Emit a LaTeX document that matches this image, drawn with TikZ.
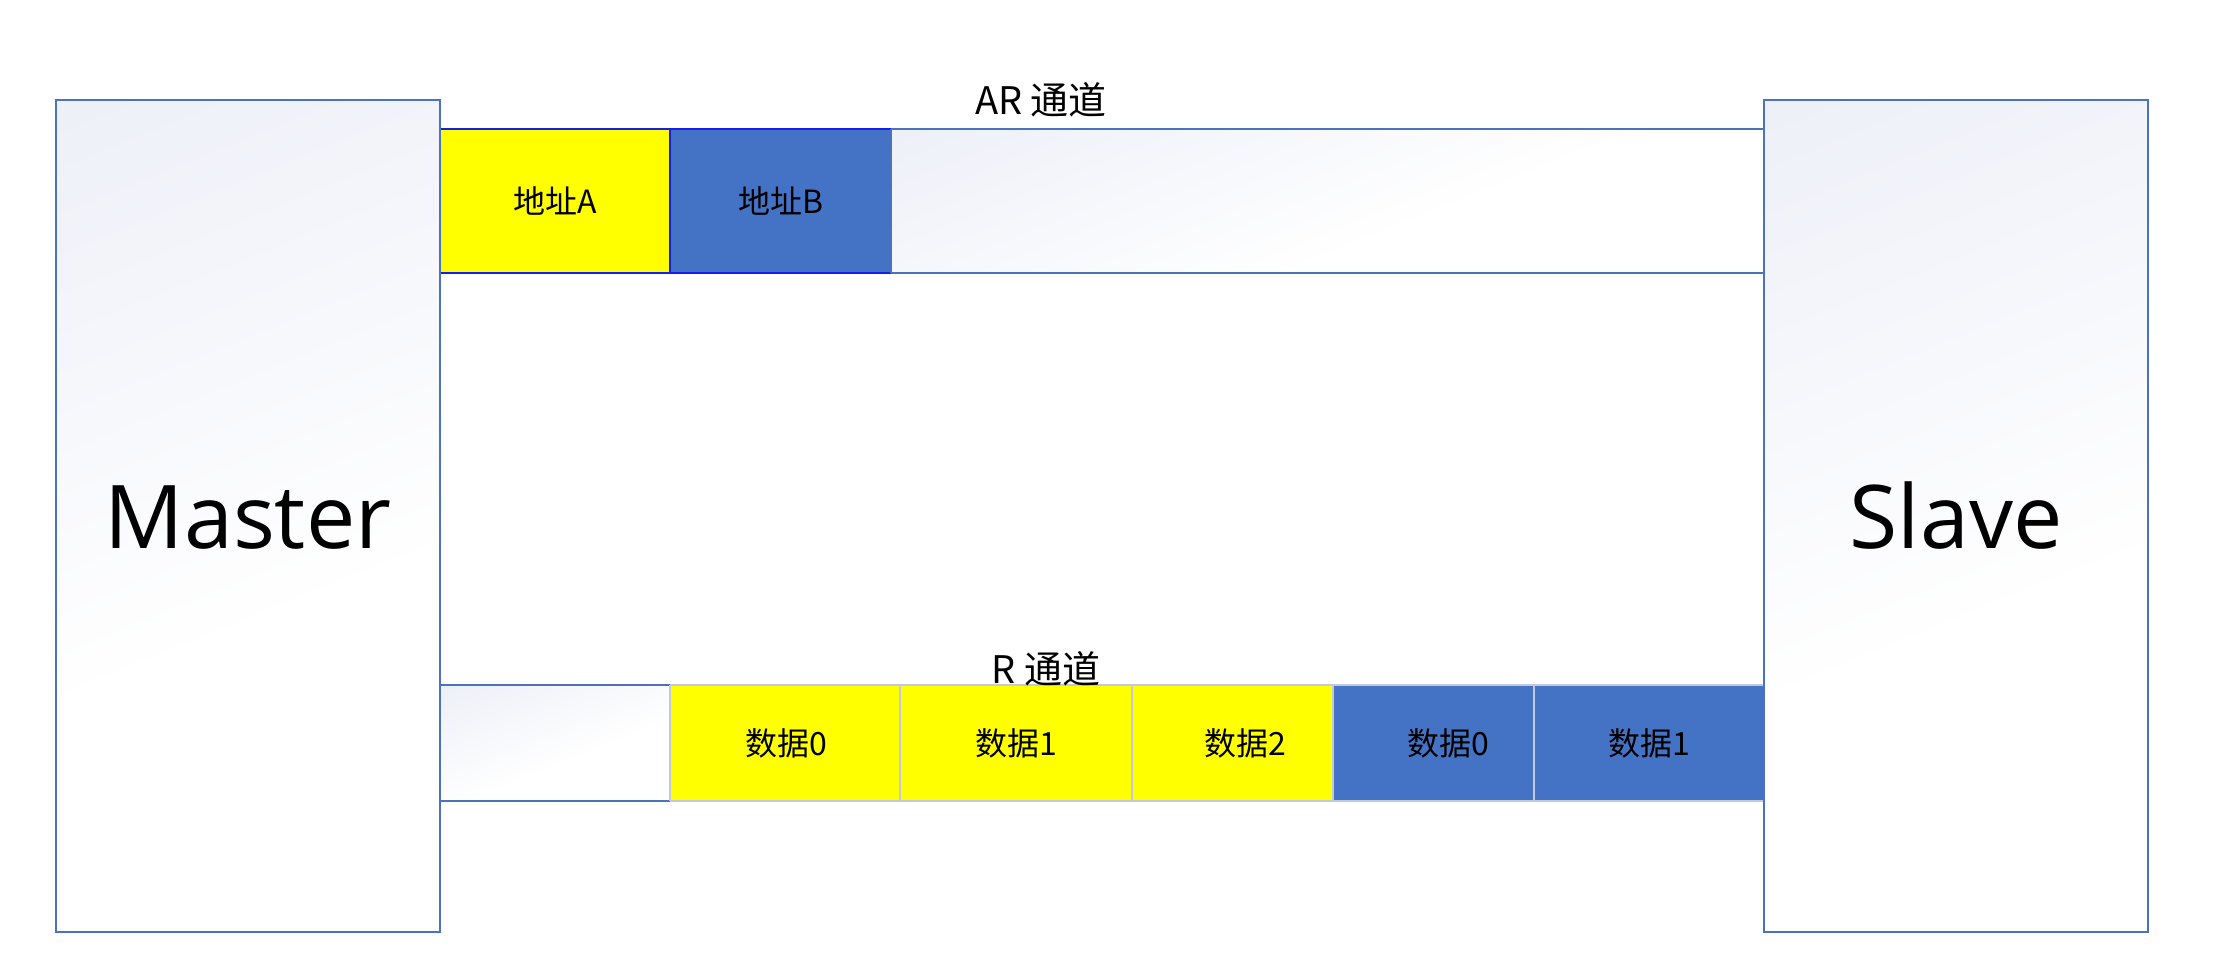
\documentclass[tikz,border=0pt]{standalone}
\usepackage{fontspec}
\setmainfont{Open Sans}
\newfontfamily\cjk{Noto Sans CJK SC}
\definecolor{lav}{RGB}{230,233,245}
\definecolor{accent}{RGB}{68,114,196}
\definecolor{edge}{RGB}{74,114,190}
\definecolor{brightblue}{RGB}{20,30,240}
\definecolor{pale}{RGB}{195,200,222}
\definecolor{yel}{RGB}{255,255,0}
\pgfdeclareverticalshading{officegrad}{100bp}{color(0bp)=(white); color(42bp)=(white); color(100bp)=(lav)}
\tikzset{
  gradbox/.style={shading=officegrad, shading angle=22},
  bigtxt/.style={font=\fontsize{25pt}{30pt}\selectfont, inner sep=0pt, anchor=base},
  celltxt/.style={font=\cjk\fontsize{9.1pt}{11pt}\selectfont, inner sep=0pt},
  chantxt/.style={font=\cjk\fontsize{10.8pt}{13pt}\selectfont, inner sep=0pt},
  frame/.style={draw=edge, line width=0.65pt},
}
\begin{document}
\begin{tikzpicture}[x=0.01cm, y=-0.01cm]
\useasboundingbox (0,0) rectangle (2234,969);
\fill[white] (0,0) rectangle (2234,969);

% AR channel
\shade[gradbox] (891,129) rectangle (1764,273);
\draw[frame] (440,129) -- (1764,129);
\draw[frame] (440,273) -- (1764,273);
\fill[yel] (440,129) rectangle (670,273);
\fill[accent] (670,129) rectangle (891,273);
\draw[brightblue, line width=0.7pt] (440,129) rectangle (670,273);
\draw[brightblue, line width=0.7pt] (670,129) -- (891,129);
\draw[brightblue, line width=0.7pt] (670,273) -- (891,273);
\draw[edge, line width=0.5pt] (891,129) -- (891,273);
\node[celltxt] (addrA) at (555,201) {地址A};
\node[celltxt] (addrB) at (781,201) {地址B};
\node[chantxt] (arlabel) at (1041,100) {AR 通道};

% R channel
\shade[gradbox] (440,685) rectangle (670,801);
\fill[yel] (670,685) rectangle (1333,801);
\fill[accent] (1333,685) rectangle (1764,801);
\draw[pale, line width=0.35pt] (670,685) rectangle (1764,801);
\foreach \xx in {900,1132,1333,1534} \draw[pale, line width=0.3pt] (\xx,685) -- (\xx,801);
\draw[edge, line width=0.7pt] (440,685) -- (670,685);
\draw[edge, line width=0.7pt] (440,801) -- (670,801);
\draw[pale, line width=0.4pt] (670,685) -- (670,801);
\node[celltxt] (d0) at (786,743) {数据0};
\node[celltxt] (d1) at (1016,743) {数据1};
\node[celltxt] (d2) at (1245,743) {数据2};
\node[celltxt] (d3) at (1448,743) {数据0};
\node[celltxt] (d4) at (1649,743) {数据1};
\node[chantxt] (rlabel) at (1046,669) {R 通道};

% Master and Slave
\shade[gradbox] (56,100) rectangle (440,932);
\draw[frame] (56,100) rectangle (440,932);
\shade[gradbox] (1764,100) rectangle (2148,932);
\draw[frame] (1764,100) rectangle (2148,932);
\node[bigtxt] (master) at (248,548) {Master};
\node[bigtxt] (slave) at (1956,548) {Slave};
\end{tikzpicture}
\end{document}
